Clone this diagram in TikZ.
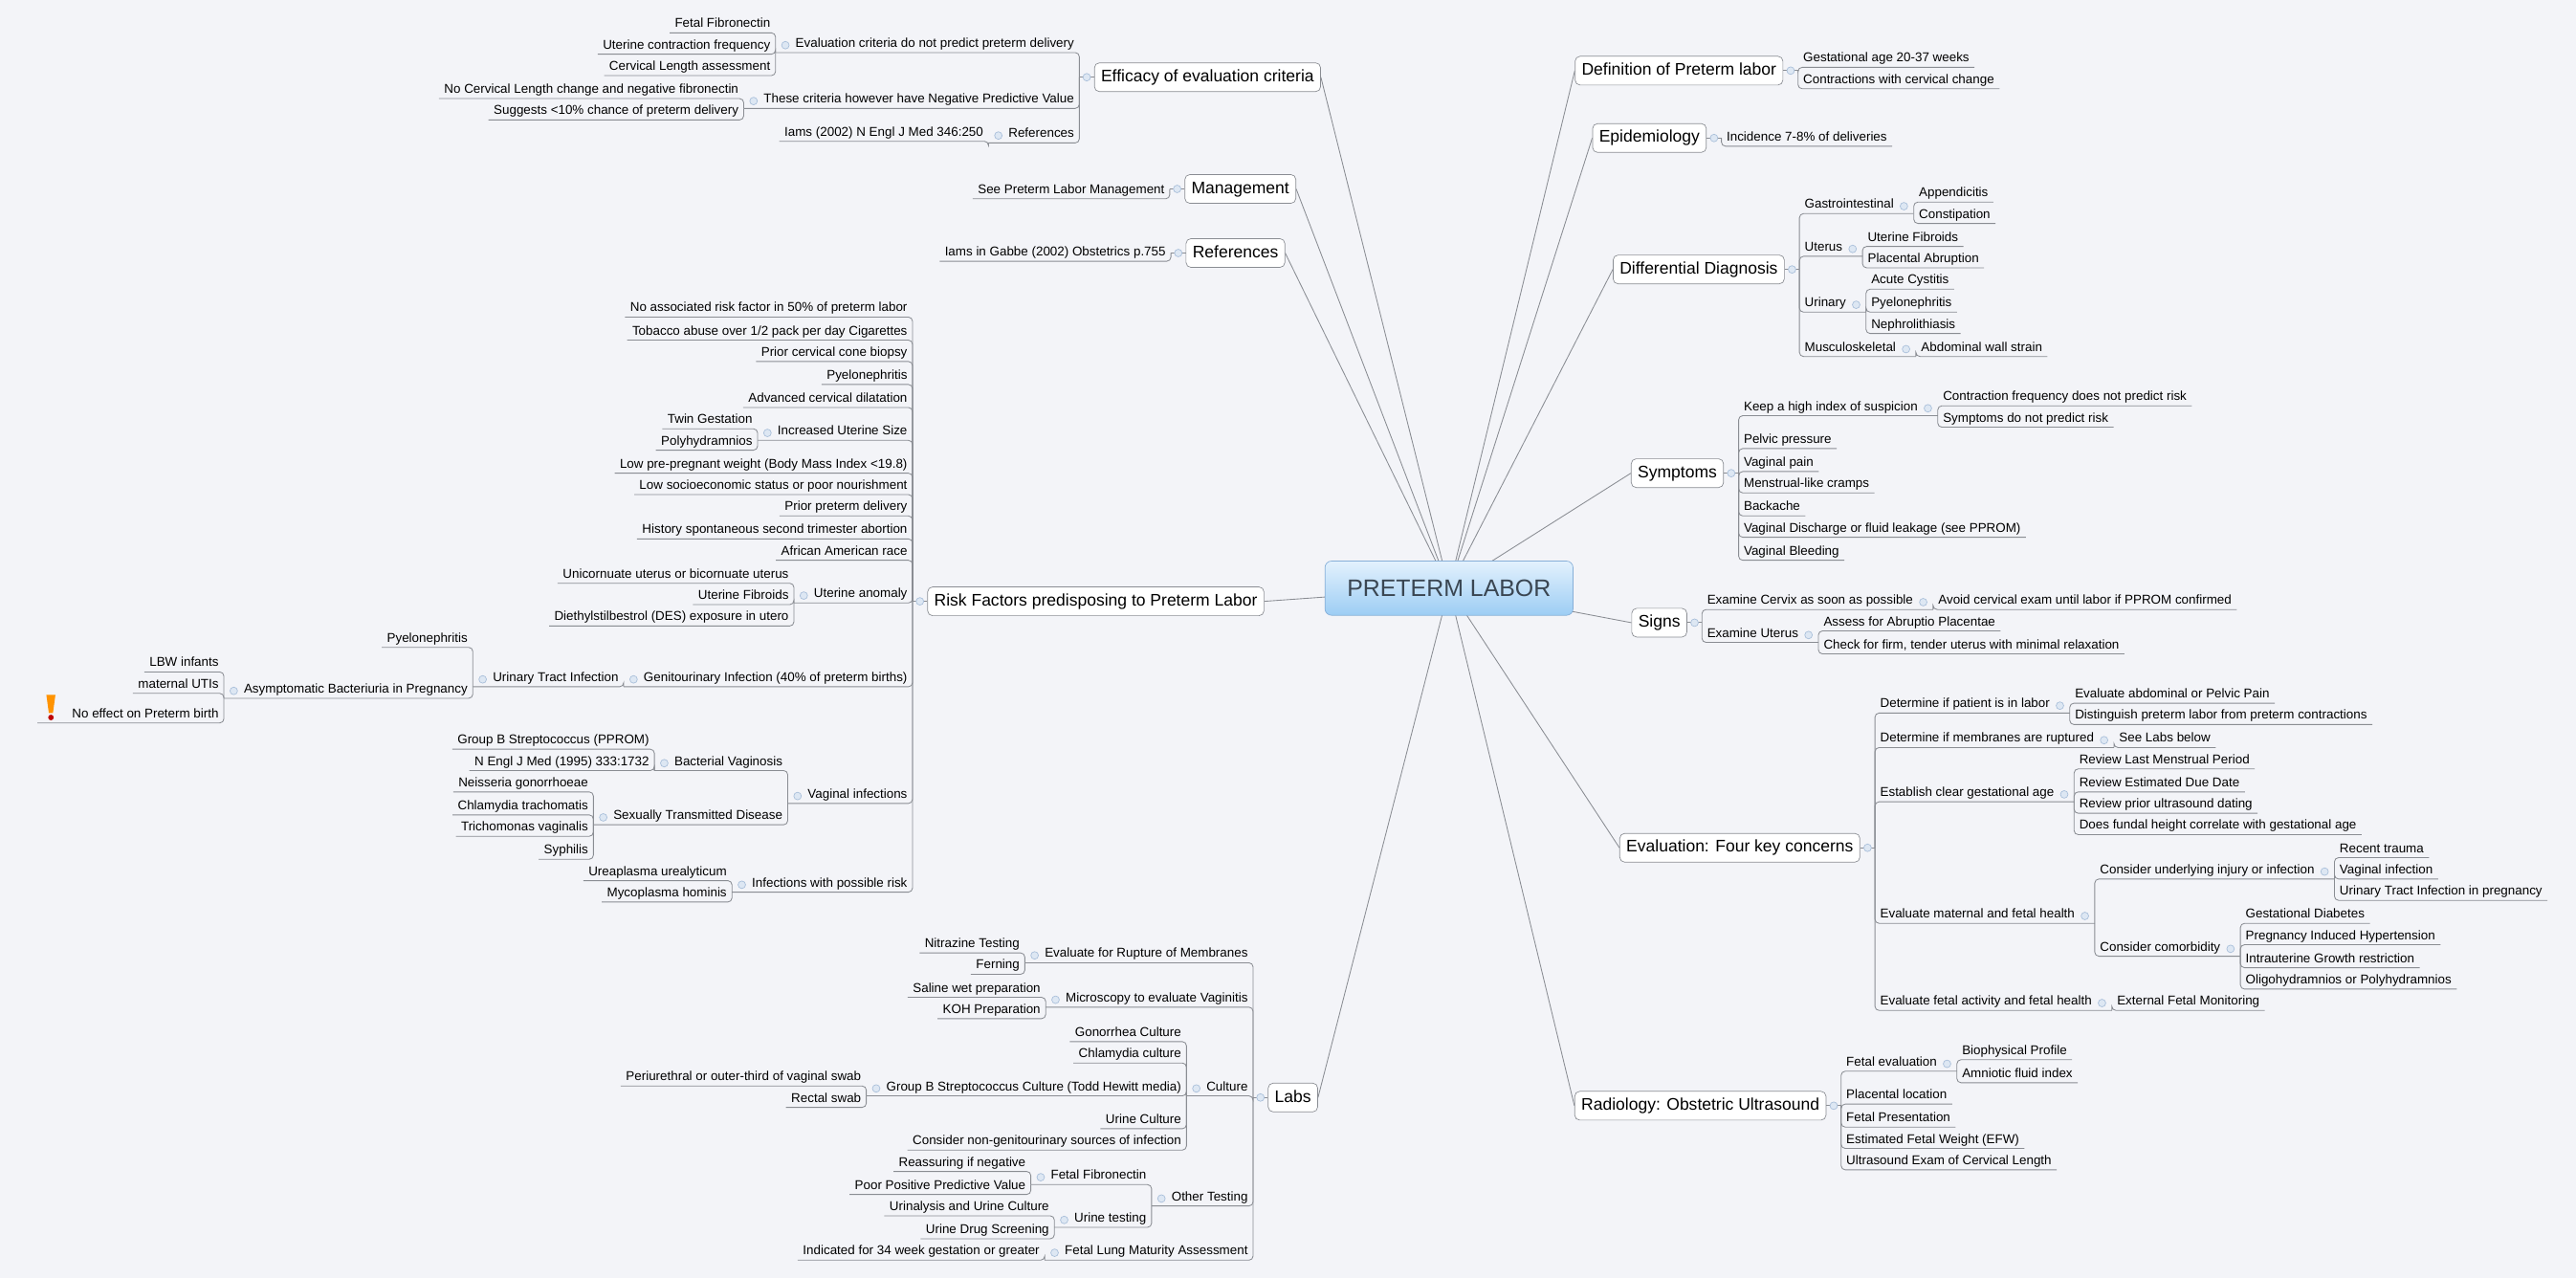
\documentclass[tikz,border=0pt]{standalone}
\usepackage{fontspec}
\setmainfont{Liberation Sans}
\usetikzlibrary{calc}
\pgfdeclarelayer{background}
\pgfsetlayers{background,main}
\definecolor{bgc}{HTML}{F3F4F8}
\definecolor{lnc}{HTML}{8A8D93}
\definecolor{mkf}{HTML}{DDE7F3}
\definecolor{mkd}{HTML}{A9BFDA}
\definecolor{rootd}{HTML}{86AFD8}
\definecolor{roott}{HTML}{3A4652}
\definecolor{rtop}{HTML}{E3F1FD}
\definecolor{rbot}{HTML}{9CCDF4}
\tikzset{
 leaf/.style={font=\fontsize{7.8}{9}\selectfont, inner xsep=3pt, inner ysep=1.5pt, text height=5.5pt, text depth=1.5pt},
 conn/.style={draw=lnc, line width=0.5pt, rounded corners=2.5pt},
 topic/.style={draw=lnc, fill=white, rounded corners=3pt, font=\fontsize{10.2}{12}\selectfont, inner xsep=4pt, inner ysep=4pt, text height=7.5pt, text depth=2pt},
 mk/.style={fill=mkf, draw=mkd, line width=0.4pt},
}
\newcommand\LN[4]{\node[leaf,anchor=south east] (#1) at (#2 |- 0,{#3+5}) {#4};
 \draw[conn] (#2) -- (#1.south east) -- (#1.south west);}
\newcommand\LK[4]{\node[leaf,anchor=south east] (#1) at (#2 |- 0,{#3+5}) {\hspace*{9pt}#4};
 \draw[conn] (#2) -- (#1.south east) -- (#1.south west);
 \path[mk] ([xshift=6pt,yshift=4.5pt]#1.south west) circle (2.3pt);}
\newcommand\RN[4]{\node[leaf,anchor=south west] (#1) at (#2 |- 0,{#3+5}) {#4};
 \draw[conn] (#2) -- (#1.south west) -- (#1.south east);}
\newcommand\RK[4]{\node[leaf,anchor=south west] (#1) at (#2 |- 0,{#3+5}) {#4\hspace*{9pt}};
 \draw[conn] (#2) -- (#1.south west) -- (#1.south east);
 \path[mk] ([xshift=-6pt,yshift=4.5pt]#1.south east) circle (2.3pt);}
\newcommand\TL[3]{\node[topic] (#1) at (#2) {#3};
 \coordinate (#1b) at ([xshift=-9pt]#1.west);
 \draw[conn] (#1.west) -- (#1b);
 \path[mk] ([xshift=-4.5pt]#1.west) circle (2.3pt);}
\newcommand\TR[3]{\node[topic] (#1) at (#2) {#3};
 \coordinate (#1b) at ([xshift=9pt]#1.east);
 \draw[conn] (#1.east) -- (#1b);
 \path[mk] ([xshift=4.5pt]#1.east) circle (2.3pt);}
\begin{document}
\begin{tikzpicture}[x=1pt,y=-1pt]
\begin{pgfonlayer}{background}
\fill[bgc] (0,0) rectangle (1568,778);
\end{pgfonlayer}
\useasboundingbox (0,0) rectangle (1568,778);

\node[draw=rootd, rounded corners=4pt, top color=rtop, bottom color=rbot, minimum width=151pt, minimum height=33pt, font=\fontsize{14.5}{16}\selectfont, text=roott] (P) at (882,358) {PRETERM LABOR};

% ---------- LEFT ----------
\TL{E}{735,47}{Efficacy of evaluation criteria}
\LK{e1}{Eb}{27}{Evaluation criteria do not predict preterm delivery}
\LN{e11}{e1.south west}{15}{Fetal Fibronectin}
\LN{e12}{e1.south west}{28}{Uterine contraction frequency}
\LN{e13}{e1.south west}{41}{Cervical Length assessment}
\LK{e2}{Eb}{61}{These criteria however have Negative Predictive Value}
\LN{e21}{e2.south west}{55}{No Cervical Length change and negative fibronectin}
\LN{e22}{e2.south west}{68}{Suggests <10\% chance of preterm delivery}
\LK{e3}{Eb}{82}{References}
\LN{e31}{e3.south west}{81}{Iams (2002) N Engl J Med 346:250}

\TL{M}{755,115}{Management}
\LN{m1}{Mb}{116}{See Preterm Labor Management}
\TL{Rf}{752,154}{References}
\LN{rf1}{Rfb}{154}{Iams in Gabbe (2002) Obstetrics p.755}

\TL{RF}{667,366}{Risk Factors predisposing to Preterm Labor}
\LN{r1}{RFb}{188}{No associated risk factor in 50\% of preterm labor}
\LN{r2}{RFb}{202}{Tobacco abuse over 1/2 pack per day Cigarettes}
\LN{r3}{RFb}{215}{Prior cervical cone biopsy}
\LN{r4}{RFb}{229}{Pyelonephritis}
\LN{r5}{RFb}{243}{Advanced cervical dilatation}
\LK{r6}{RFb}{263}{Increased Uterine Size}
\LN{r61}{r6.south west}{256}{Twin Gestation}
\LN{r62}{r6.south west}{269}{Polyhydramnios}
\LN{r7}{RFb}{283}{Low pre-pregnant weight (Body Mass Index <19.8)}
\LN{r8}{RFb}{296}{Low socioeconomic status or poor nourishment}
\LN{r9}{RFb}{309}{Prior preterm delivery}
\LN{r10}{RFb}{323}{History spontaneous second trimester abortion}
\LN{r11}{RFb}{336}{African American race}
\LK{r12}{RFb}{362}{Uterine anomaly}
\LN{r121}{r12.south west}{350}{Unicornuate uterus or bicornuate uterus}
\LN{r122}{r12.south west}{363}{Uterine Fibroids}
\LN{r123}{r12.south west}{376}{Diethylstilbestrol (DES) exposure in utero}
\LK{r13}{RFb}{413}{Genitourinary Infection (40\% of preterm births)}
\LK{r131}{r13.south west}{413}{Urinary Tract Infection}
\LN{r1311}{r131.south west}{389}{Pyelonephritis}
\LK{r1312}{r131.south west}{420}{Asymptomatic Bacteriuria in Pregnancy}
\LN{ab1}{r1312.south west}{404}{LBW infants}
\LN{ab2}{r1312.south west}{417}{maternal UTIs}
\LN{ab3}{r1312.south west}{435}{\hspace*{18pt}No effect on Preterm birth}
\begin{scope}[shift={(ab3.south west)}]
 \fill[orange!85!yellow] (7,-6) -- (9.5,-6) -- (11,-17) -- (5.5,-17) -- cycle;
 \fill[red!75!black] (8.3,-3.3) circle (1.7pt);
\end{scope}
\LK{r14}{RFb}{484}{Vaginal infections}
\LK{bv}{r14.south west}{464}{Bacterial Vaginosis}
\LN{bv1}{bv.south west}{451}{Group B Streptococcus (PPROM)}
\LN{bv2}{bv.south west}{464}{N Engl J Med (1995) 333:1732}
\LK{st}{r14.south west}{497}{Sexually Transmitted Disease}
\LN{st1}{st.south west}{477}{Neisseria gonorrhoeae}
\LN{st2}{st.south west}{491}{Chlamydia trachomatis}
\LN{st3}{st.south west}{504}{Trichomonas vaginalis}
\LN{st4}{st.south west}{518}{Syphilis}
\LK{r15}{RFb}{538}{Infections with possible risk}
\LN{r151}{r15.south west}{531}{Ureaplasma urealyticum}
\LN{r152}{r15.south west}{544}{Mycoplasma hominis}

\TL{L}{787,668}{Labs}
\LK{l1}{Lb}{581}{Evaluate for Rupture of Membranes}
\LN{l11}{l1.south west}{575}{Nitrazine Testing}
\LN{l12}{l1.south west}{588}{Ferning}
\LK{l2}{Lb}{608}{Microscopy to evaluate Vaginitis}
\LN{l21}{l2.south west}{602}{Saline wet preparation}
\LN{l22}{l2.south west}{615}{KOH Preparation}
\LK{l3}{Lb}{662}{Culture}
\LN{l31}{l3.south west}{629}{Gonorrhea Culture}
\LN{l32}{l3.south west}{642}{Chlamydia culture}
\LK{l33}{l3.south west}{662}{Group B Streptococcus Culture (Todd Hewitt media)}
\LN{l331}{l33.south west}{656}{Periurethral or outer-third of vaginal swab}
\LN{l332}{l33.south west}{669}{Rectal swab}
\LN{l34}{l3.south west}{682}{Urine Culture}
\LN{l35}{l3.south west}{695}{Consider non-genitourinary sources of infection}
\LK{l4}{Lb}{729}{Other Testing}
\LK{ff}{l4.south west}{716}{Fetal Fibronectin}
\LN{ff1}{ff.south west}{708}{Reassuring if negative}
\LN{ff2}{ff.south west}{722}{Poor Positive Predictive Value}
\LK{ut}{l4.south west}{742}{Urine testing}
\LN{ut1}{ut.south west}{735}{Urinalysis and Urine Culture}
\LN{ut2}{ut.south west}{749}{Urine Drug Screening}
\LK{l5}{Lb}{762}{Fetal Lung Maturity Assessment}
\LN{l51}{l5.south west}{762}{Indicated for 34 week gestation or greater}

% ---------- RIGHT ----------
\TR{D}{1022,43}{Definition of Preterm labor}
\RN{d1}{Db}{36}{Gestational age 20-37 weeks}
\RN{d2}{Db}{49}{Contractions with cervical change}
\TR{Ep}{1004,84}{Epidemiology}
\RN{ep1}{Epb}{84}{Incidence 7-8\% of deliveries}

\TR{DD}{1034,164}{Differential Diagnosis}
\RK{g}{DDb}{125}{Gastrointestinal}
\RN{g1}{g.south east}{118}{Appendicitis}
\RN{g2}{g.south east}{131}{Constipation}
\RK{u}{DDb}{151}{Uterus}
\RN{u1}{u.south east}{145}{Uterine Fibroids}
\RN{u2}{u.south east}{158}{Placental Abruption}
\RK{ur}{DDb}{185}{Urinary}
\RN{ur1}{ur.south east}{171}{Acute Cystitis}
\RN{ur2}{ur.south east}{185}{Pyelonephritis}
\RN{ur3}{ur.south east}{198}{Nephrolithiasis}
\RK{ms}{DDb}{212}{Musculoskeletal}
\RN{ms1}{ms.south east}{212}{Abdominal wall strain}

\TR{S}{1021,288}{Symptoms}
\RK{k}{Sb}{248}{Keep a high index of suspicion}
\RN{k1}{k.south east}{242}{Contraction frequency does not predict risk}
\RN{k2}{k.south east}{255}{Symptoms do not predict risk}
\RN{s2}{Sb}{268}{Pelvic pressure}
\RN{s3}{Sb}{282}{Vaginal pain}
\RN{s4}{Sb}{295}{Menstrual-like cramps}
\RN{s5}{Sb}{309}{Backache}
\RN{s6}{Sb}{322}{Vaginal Discharge or fluid leakage (see PPROM)}
\RN{s7}{Sb}{336}{Vaginal Bleeding}

\TR{Sg}{1010,379}{Signs}
\RK{ec}{Sgb}{366}{Examine Cervix as soon as possible}
\RN{ec1}{ec.south east}{366}{Avoid cervical exam until labor if PPROM confirmed}
\RK{eu}{Sgb}{386}{Examine Uterus}
\RN{eu1}{eu.south east}{379}{Assess for Abruptio Placentae}
\RN{eu2}{eu.south east}{393}{Check for firm, tender uterus with minimal relaxation}

\TR{Ev}{1059,516}{Evaluation: Four key concerns}
\RK{v1}{Evb}{429}{Determine if patient is in labor}
\RN{v11}{v1.south east}{423}{Evaluate abdominal or Pelvic Pain}
\RN{v12}{v1.south east}{436}{Distinguish preterm labor from preterm contractions}
\RK{v2}{Evb}{450}{Determine if membranes are ruptured}
\RN{v21}{v2.south east}{450}{See Labs below}
\RK{v3}{Evb}{483}{Establish clear gestational age}
\RN{v31}{v3.south east}{463}{Review Last Menstrual Period}
\RN{v32}{v3.south east}{477}{Review Estimated Due Date}
\RN{v33}{v3.south east}{490}{Review prior ultrasound dating}
\RN{v34}{v3.south east}{503}{Does fundal height correlate with gestational age}
\RK{v4}{Evb}{557}{Evaluate maternal and fetal health}
\RK{v41}{v4.south east}{530}{Consider underlying injury or infection}
\RN{v411}{v41.south east}{517}{Recent trauma}
\RN{v412}{v41.south east}{530}{Vaginal infection}
\RN{v413}{v41.south east}{543}{Urinary Tract Infection in pregnancy}
\RK{v42}{v4.south east}{577}{Consider comorbidity}
\RN{v421}{v42.south east}{557}{Gestational Diabetes}
\RN{v422}{v42.south east}{570}{Pregnancy Induced Hypertension}
\RN{v423}{v42.south east}{584}{Intrauterine Growth restriction}
\RN{v424}{v42.south east}{597}{Oligohydramnios or Polyhydramnios}
\RK{v5}{Evb}{610}{Evaluate fetal activity and fetal health}
\RN{v51}{v5.south east}{610}{External Fetal Monitoring}

\TR{Ra}{1035,673}{Radiology: Obstetric Ultrasound}
\RK{a1}{Rab}{647}{Fetal evaluation}
\RN{a11}{a1.south east}{640}{Biophysical Profile}
\RN{a12}{a1.south east}{654}{Amniotic fluid index}
\RN{a2}{Rab}{667}{Placental location}
\RN{a3}{Rab}{681}{Fetal Presentation}
\RN{a4}{Rab}{694}{Estimated Fetal Weight (EFW)}
\RN{a5}{Rab}{707}{Ultrasound Exam of Cervical Length}

\begin{pgfonlayer}{background}
\foreach \t in {D,Ep,DD,S,Sg,Ev,Ra} \draw[draw=lnc,line width=0.5pt] (P.center) -- (\t.west);
\foreach \t in {E,M,Rf,RF,L} \draw[draw=lnc,line width=0.5pt] (P.center) -- (\t.east);
\end{pgfonlayer}
\end{tikzpicture}
\end{document}
